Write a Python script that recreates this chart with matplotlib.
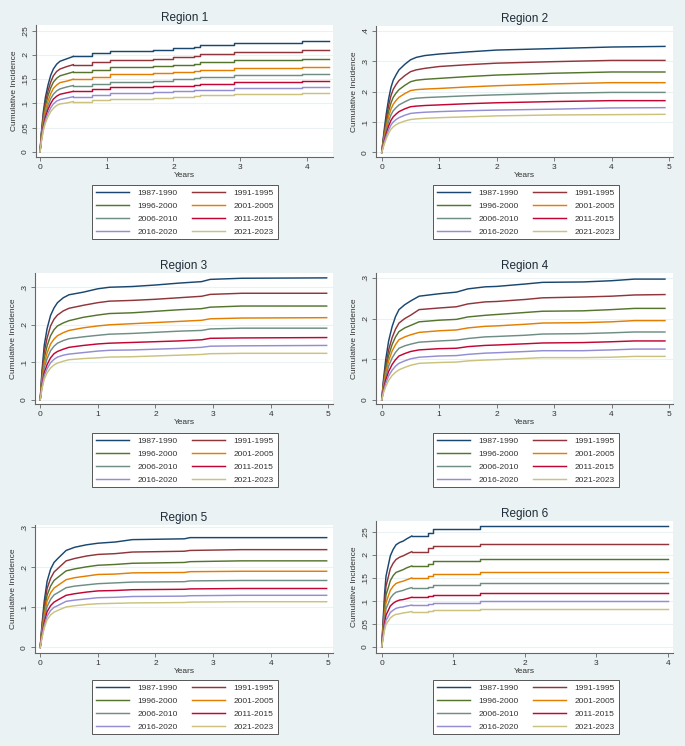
import matplotlib
matplotlib.use("Agg")
import matplotlib.pyplot as plt

plt.rcParams['font.family'] = ['Liberation Sans', 'DejaVu Sans']

PERIODS = ["1987-1990", "1991-1995", "1996-2000", "2001-2005",
           "2006-2010", "2011-2015", "2016-2020", "2021-2023"]
COLORS = ["#1a476f", "#90353b", "#55752f", "#e37e00",
          "#6e8e84", "#c10534", "#938dd2", "#cac27e"]
TITLES = ["Region 1", "Region 2", "Region 3", "Region 4", "Region 5", "Region 6"]

# ---------------- Region 1 ----------------
R1_TIME = [0, .02, .05, .08, .12, .16, .2, .25, .3, .4, .5, .78, 1.05, 1.7, 2.0, 2.3, 2.4, 2.9, 3.93, 4.33]
R1_CIF = [
    [0, .039, .083, .112, .138, .158, .171, .181, .187, .192, .197, .203, .208, .211, .214, .217, .221, .225, .228, .228],
    [0, .036, .076, .103, .126, .144, .157, .166, .171, .176, .180, .186, .190, .192, .196, .198, .202, .206, .210, .210],
    [0, .033, .069, .094, .116, .132, .144, .152, .157, .161, .165, .170, .175, .177, .180, .182, .185, .189, .192, .192],
    [0, .030, .063, .086, .105, .120, .131, .138, .143, .146, .150, .155, .160, .162, .165, .167, .169, .173, .176, .176],
    [0, .027, .058, .078, .096, .110, .119, .126, .130, .134, .137, .141, .145, .147, .150, .152, .154, .158, .161, .161],
    [0, .025, .053, .071, .088, .100, .109, .115, .119, .122, .125, .129, .133, .135, .137, .139, .141, .144, .147, .147],
    [0, .023, .048, .065, .080, .091, .099, .105, .108, .111, .114, .118, .121, .123, .125, .127, .128, .131, .134, .134],
    [0, .021, .044, .059, .073, .083, .090, .096, .099, .101, .104, .107, .110, .112, .114, .115, .117, .120, .122, .122],
]

# ---------------- Region 2 ----------------
R2_TIME = [0, .02, .05, .08, .12, .16, .2, .25, .3, .4, .5, .6, .75, 1.0, 1.5, 2.0, 3.0, 4.0, 4.93]
R2_CIF = [
    [0, .036, .085, .128, .176, .213, .237, .255, .271, .289, .304, .312, .318, .323, .330, .336, .341, .346, .348],
    [0, .032, .074, .111, .154, .186, .207, .223, .236, .252, .265, .271, .276, .282, .288, .293, .298, .302, .302],
    [0, .028, .065, .097, .135, .162, .181, .195, .206, .220, .232, .237, .240, .243, .249, .254, .260, .264, .264],
    [0, .024, .057, .085, .118, .142, .158, .171, .181, .193, .203, .206, .208, .210, .215, .219, .225, .229, .229],
    [0, .021, .049, .074, .102, .123, .137, .147, .156, .166, .175, .178, .180, .182, .186, .189, .194, .197, .197],
    [0, .018, .042, .063, .087, .105, .117, .126, .134, .143, .150, .152, .154, .156, .160, .163, .167, .170, .170],
    [0, .015, .036, .054, .074, .090, .100, .108, .114, .122, .128, .130, .132, .134, .137, .139, .142, .146, .147],
    [0, .013, .030, .045, .063, .076, .084, .091, .096, .103, .108, .110, .112, .114, .117, .120, .123, .124, .125],
]

# ---------------- Region 3 ----------------
R3_TIME = [0, .03, .07, .12, .18, .24, .3, .4, .5, .75, 1.0, 1.2, 1.6, 2.0, 2.4, 2.8, 2.95, 3.5, 4.97]
R3_CIF = [
    [0, .075, .145, .190, .225, .245, .259, .272, .280, .287, .296, .300, .302, .306, .311, .315, .321, .324, .325],
    [0, .066, .127, .165, .197, .215, .226, .237, .244, .252, .259, .263, .265, .268, .272, .276, .281, .284, .284],
    [0, .057, .110, .144, .171, .187, .197, .205, .211, .220, .226, .230, .232, .236, .240, .243, .247, .250, .250],
    [0, .050, .096, .125, .149, .162, .171, .179, .185, .192, .197, .200, .203, .206, .209, .212, .216, .218, .219],
    [0, .044, .085, .110, .131, .143, .151, .158, .163, .168, .172, .175, .177, .180, .183, .185, .189, .191, .191],
    [0, .037, .072, .094, .112, .123, .129, .135, .140, .145, .149, .151, .153, .155, .157, .160, .164, .165, .166],
    [0, .033, .064, .083, .099, .108, .114, .119, .122, .126, .130, .132, .133, .135, .137, .140, .143, .144, .145],
    [0, .028, .055, .072, .085, .093, .098, .103, .107, .110, .112, .114, .115, .117, .119, .121, .123, .124, .124],
]

# ---------------- Region 4 ----------------
R4_TIME = [0, .03, .07, .12, .18, .24, .3, .4, .5, .65, 1.0, 1.3, 1.5, 1.8, 2.0, 2.5, 2.8, 3.5, 4.0, 4.4, 4.93]
R4_CIF = [
    [0, .050, .100, .145, .180, .205, .222, .234, .243, .255, .261, .265, .273, .278, .279, .285, .289, .290, .293, .297, .297],
    [0, .043, .085, .123, .153, .174, .189, .200, .208, .222, .226, .229, .236, .241, .242, .247, .251, .253, .255, .258, .259],
    [0, .039, .076, .109, .136, .155, .168, .177, .183, .192, .196, .198, .204, .208, .210, .215, .218, .219, .222, .225, .225],
    [0, .034, .067, .096, .120, .136, .148, .155, .160, .166, .170, .172, .177, .181, .182, .186, .189, .190, .192, .195, .195],
    [0, .029, .057, .083, .103, .117, .127, .133, .137, .142, .145, .147, .151, .155, .156, .159, .162, .163, .165, .167, .167],
    [0, .025, .049, .070, .087, .099, .108, .114, .119, .123, .126, .127, .131, .134, .135, .138, .140, .141, .143, .145, .145],
    [0, .021, .041, .059, .073, .083, .090, .096, .101, .105, .108, .109, .112, .115, .116, .119, .121, .121, .123, .125, .125],
    [0, .017, .033, .048, .060, .068, .074, .080, .085, .090, .092, .093, .096, .098, .099, .102, .104, .104, .105, .107, .107],
]

# ---------------- Region 5 ----------------
R5_TIME = [0, .03, .07, .12, .18, .24, .3, .45, .6, .8, 1.0, 1.3, 1.6, 2.5, 2.6, 3.5, 4.97]
R5_CIF = [
    [0, .055, .115, .165, .195, .212, .221, .242, .250, .256, .260, .263, .269, .271, .274, .274, .274],
    [0, .049, .102, .147, .172, .188, .196, .216, .222, .228, .232, .234, .238, .240, .242, .244, .244],
    [0, .044, .090, .130, .153, .167, .174, .191, .196, .201, .205, .207, .210, .212, .214, .216, .216],
    [0, .039, .080, .116, .136, .148, .154, .169, .174, .178, .182, .183, .186, .187, .189, .190, .190],
    [0, .034, .071, .102, .120, .131, .136, .149, .153, .156, .159, .161, .163, .164, .166, .167, .167],
    [0, .030, .061, .089, .104, .113, .118, .130, .134, .138, .141, .142, .144, .145, .146, .147, .147],
    [0, .026, .054, .078, .092, .100, .104, .115, .118, .121, .124, .125, .127, .128, .129, .130, .130],
    [0, .023, .048, .069, .081, .088, .092, .101, .104, .107, .109, .110, .111, .112, .113, .114, .114],
]

# ---------------- Region 6 ----------------
R6_TIME = [0, .02, .04, .06, .09, .12, .16, .2, .25, .3, .35, .42, .65, .72, 1.37, 4.0]
R6_CIF = [
    [0, .060, .116, .154, .176, .198, .212, .222, .227, .230, .235, .241, .248, .256, .262, .262],
    [0, .052, .099, .132, .151, .170, .182, .190, .195, .198, .202, .207, .214, .220, .224, .224],
    [0, .044, .084, .113, .128, .144, .155, .162, .165, .168, .172, .176, .181, .186, .191, .191],
    [0, .038, .072, .096, .110, .123, .132, .138, .141, .143, .146, .150, .154, .158, .162, .162],
    [0, .032, .062, .083, .094, .106, .114, .119, .121, .123, .126, .129, .131, .134, .138, .138],
    [0, .027, .052, .069, .079, .089, .095, .099, .102, .103, .105, .108, .111, .114, .117, .117],
    [0, .023, .044, .058, .066, .075, .080, .084, .086, .087, .089, .091, .093, .096, .099, .099],
    [0, .019, .037, .049, .056, .063, .068, .071, .072, .074, .075, .077, .079, .081, .082, .082],
]

# axis ticks
R1_YTICKS = [0, .05, .1, .15, .2, .25]
R2_YTICKS = [0, .1, .2, .3, .4]
R3_YTICKS = [0, .1, .2, .3]
R4_YTICKS = [0, .1, .2, .3]
R5_YTICKS = [0, .1, .2, .3]
R6_YTICKS = [0, .05, .1, .15, .2, .25]
R1_XTICKS = [0, 1, 2, 3, 4]
R2_XTICKS = [0, 1, 2, 3, 4, 5]
R3_XTICKS = [0, 1, 2, 3, 4, 5]
R4_XTICKS = [0, 1, 2, 3, 4, 5]
R5_XTICKS = [0, 1, 2, 3, 4, 5]
R6_XTICKS = [0, 1, 2, 3, 4]

W, H = 685, 746
BG = "#EAF2F3"
fig = plt.figure(figsize=(W / 100, H / 100), dpi=100, facecolor=BG)

# layout in pixels: (left, right, top, bottom) of plot; legend top-left; axis limits;
# index from which the curve is drawn as a step function (None = smooth)
panels = [
    (R1_TIME, R1_CIF, R1_XTICKS, R1_YTICKS, (36, 333, 25, 157), (92, 185), (-0.06, 4.39), (-0.0103, 0.2617), 10),
    (R2_TIME, R2_CIF, R2_XTICKS, R2_YTICKS, (376, 673, 26, 157), (433, 185), (-0.10, 5.07), (-0.015, 0.415), None),
    (R3_TIME, R3_CIF, R3_XTICKS, R3_YTICKS, (35, 333, 273, 404), (92, 433), (-0.09, 5.08), (-0.011, 0.338), None),
    (R4_TIME, R4_CIF, R4_XTICKS, R4_YTICKS, (376, 673, 273, 404), (433, 433), (-0.10, 5.07), (-0.010, 0.312), None),
    (R5_TIME, R5_CIF, R5_XTICKS, R5_YTICKS, (35, 333, 525, 653), (92, 680), (-0.09, 5.08), (-0.014, 0.3055), None),
    (R6_TIME, R6_CIF, R6_XTICKS, R6_YTICKS, (376, 673, 521, 653), (433, 680), (-0.08, 4.07), (-0.013, 0.2736), 11),
]


def stata_fmt(v):
    if v == 0:
        return "0"
    s = f"{v:g}"
    return s[1:] if s.startswith("0.") else s


TXT = "#333333"
LW = 1.05
order = [0, 2, 4, 6, 1, 3, 5, 7]

for title, (times, cifs, xt, yt, (l, r, t, b), (lx, ly), xl, yl, k) in zip(TITLES, panels):
    ax = fig.add_axes([l / W, 1 - b / H, (r - l) / W, (b - t) / H])
    ax.set_facecolor("white")
    handles = []
    for vals, col, lab in zip(cifs, COLORS, PERIODS):
        if k is None:
            h, = ax.plot(times, vals, color=col, lw=LW, label=lab,
                         solid_joinstyle="round")
        else:
            h, = ax.plot(times[:k + 1], vals[:k + 1], color=col, lw=LW, label=lab,
                         solid_joinstyle="round")
            ax.plot(times[k:], vals[k:], drawstyle="steps-post", color=col, lw=LW)
        handles.append(h)
    ax.set_xlim(*xl)
    ax.set_ylim(*yl)
    ax.set_xticks(xt)
    ax.set_xticklabels([stata_fmt(v) for v in xt])
    ax.set_yticks(yt)
    ax.set_yticklabels([stata_fmt(v) for v in yt], rotation=90, va="center")
    ax.grid(axis="y", color=BG, lw=0.8)
    ax.set_axisbelow(True)
    for s in ["top", "right"]:
        ax.spines[s].set_visible(False)
    for s in ["left", "bottom"]:
        ax.spines[s].set_color("#666666")
        ax.spines[s].set_linewidth(0.8)
    ax.tick_params(axis="both", direction="out", length=3, width=0.6, color="#666666",
                   labelsize=6, labelcolor=TXT, pad=2)
    ax.set_xlabel("Years", fontsize=6, color=TXT, labelpad=1)
    ax.set_ylabel("Cumulative Incidence", fontsize=6, color=TXT, labelpad=3)
    ax.set_title(title, fontsize=8.5, color="#1e2b37", pad=3)

    leg = fig.legend([handles[i] for i in order], [PERIODS[i] for i in order],
                     loc="upper left", bbox_to_anchor=(lx / W, 1 - ly / H),
                     ncol=2, fontsize=6, frameon=True, fancybox=False,
                     edgecolor="#555555", facecolor="white", framealpha=1,
                     handlelength=4.0, handletextpad=1.0, columnspacing=1.7,
                     labelspacing=0.62, borderpad=0.45, borderaxespad=0)
    leg.get_frame().set_linewidth(0.7)
    for txt in leg.get_texts():
        txt.set_color(TXT)

fig.savefig("out.png", dpi=100, facecolor=BG)
